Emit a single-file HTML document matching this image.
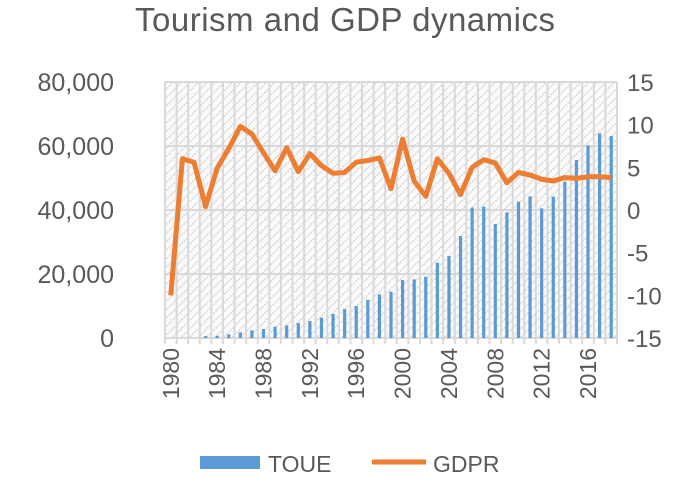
<!DOCTYPE html>
<html><head><meta charset="utf-8"><style>
body{margin:0;background:#fff;}
svg text{font-family:"Liberation Sans",sans-serif;fill:#595959;}
</style></head><body>
<svg id="c" width="685" height="477">
<defs><pattern id="hatch" width="6" height="6" patternUnits="userSpaceOnUse" patternTransform="rotate(45)">
<rect width="6" height="6" fill="#fafafa"/><line x1="0" y1="0" x2="0" y2="6" stroke="#d0d0d0" stroke-width="2.4" stroke-dasharray="2 1"/></pattern></defs>
<text x="345" y="31" font-size="33" text-anchor="middle" textLength="420">Tourism and GDP dynamics</text>
<rect x="165" y="82" width="452" height="256" fill="url(#hatch)"/>
<g id="grid"></g><g id="bars"></g><g id="axes"></g>
<g>
<rect x="200" y="456" width="60" height="13" fill="#5b9bd5"/>
<text x="268" y="472" font-size="23">TOUE</text>
<line x1="372" y1="462" x2="426" y2="462" stroke="#ed7d31" stroke-width="5"/>
<text x="433" y="472" font-size="23">GDPR</text>
</g>
</svg>
<script>
const years=[];for(let y=1980;y<=2018;y++)years.push(y);
const toue=[0,0,0,600,700,1150,1770,2400,2800,3540,3960,4700,5300,6350,7500,9060,10000,11900,13640,14480,18130,18330,19170,23540,25630,31880,40730,41040,35630,39270,42600,44270,40520,44170,48850,55630,60210,63960,63130];
const gdpr=[-10,6.0,5.6,0.4,4.9,7.2,9.8,8.9,6.7,4.6,7.3,4.5,6.6,5.2,4.3,4.4,5.6,5.8,6.1,2.5,8.3,3.4,1.6,6.0,4.3,1.8,5.0,5.9,5.5,3.2,4.4,4.1,3.6,3.4,3.8,3.7,3.9,3.9,3.8];
const leftTicks=[0,20000,40000,60000,80000];
const rightTicks=[-15,-10,-5,0,5,10,15];
const X0=165,X1=617,Y0=338,Y1=82,NS="http://www.w3.org/2000/svg";
const bw=(X1-X0)/years.length;
const xc=i=>X0+(i+0.5)*bw;
const yL=v=>Y0-(v/80000)*(Y0-Y1);
const yR=v=>Y0-((v+15)/30)*(Y0-Y1);
function mk(t,a,p){const e=document.createElementNS(NS,t);for(const k in a)e.setAttribute(k,a[k]);p.appendChild(e);return e;}
const grid=document.getElementById('grid'),bars=document.getElementById('bars'),axes=document.getElementById('axes'),svg=document.getElementById('c');
leftTicks.forEach(v=>{const l=mk('line',{x1:X0,x2:X1,y1:yL(v),y2:yL(v),stroke:'#d9d9d9','stroke-width':2},grid);


const t=mk('text',{x:114,y:yL(v)+9,'font-size':25,'text-anchor':'end'},axes);t.textContent=v.toLocaleString('en-US');

});
for(let i=0;i<=years.length;i++){const l=mk('line',{x1:X0+i*bw,x2:X0+i*bw,y1:Y1,y2:Y0+6,stroke:'#d9d9d9','stroke-width':2},grid);

}
rightTicks.forEach(v=>{const t=mk('text',{x:627,y:yR(v)+9,'font-size':24},axes);t.textContent=v;

});
toue.forEach((v,i)=>{const r=mk('rect',{x:xc(i)-1.6,y:yL(v),width:3.2,height:Y0-yL(v),fill:'#5b9bd5'},bars);

});
const p=mk('polyline',{points:gdpr.map((v,i)=>xc(i)+','+yR(v)).join(' '),fill:'none',stroke:'#ed7d31','stroke-width':5,'stroke-linejoin':'round'},svg);


years.forEach((y,i)=>{if(y%4)return;const t=mk('text',{x:xc(i)+8,y:348,'font-size':23,'text-anchor':'end',transform:`rotate(-90 ${xc(i)+8} 348)`},axes);t.textContent=y;

});
</script>
</body></html>
